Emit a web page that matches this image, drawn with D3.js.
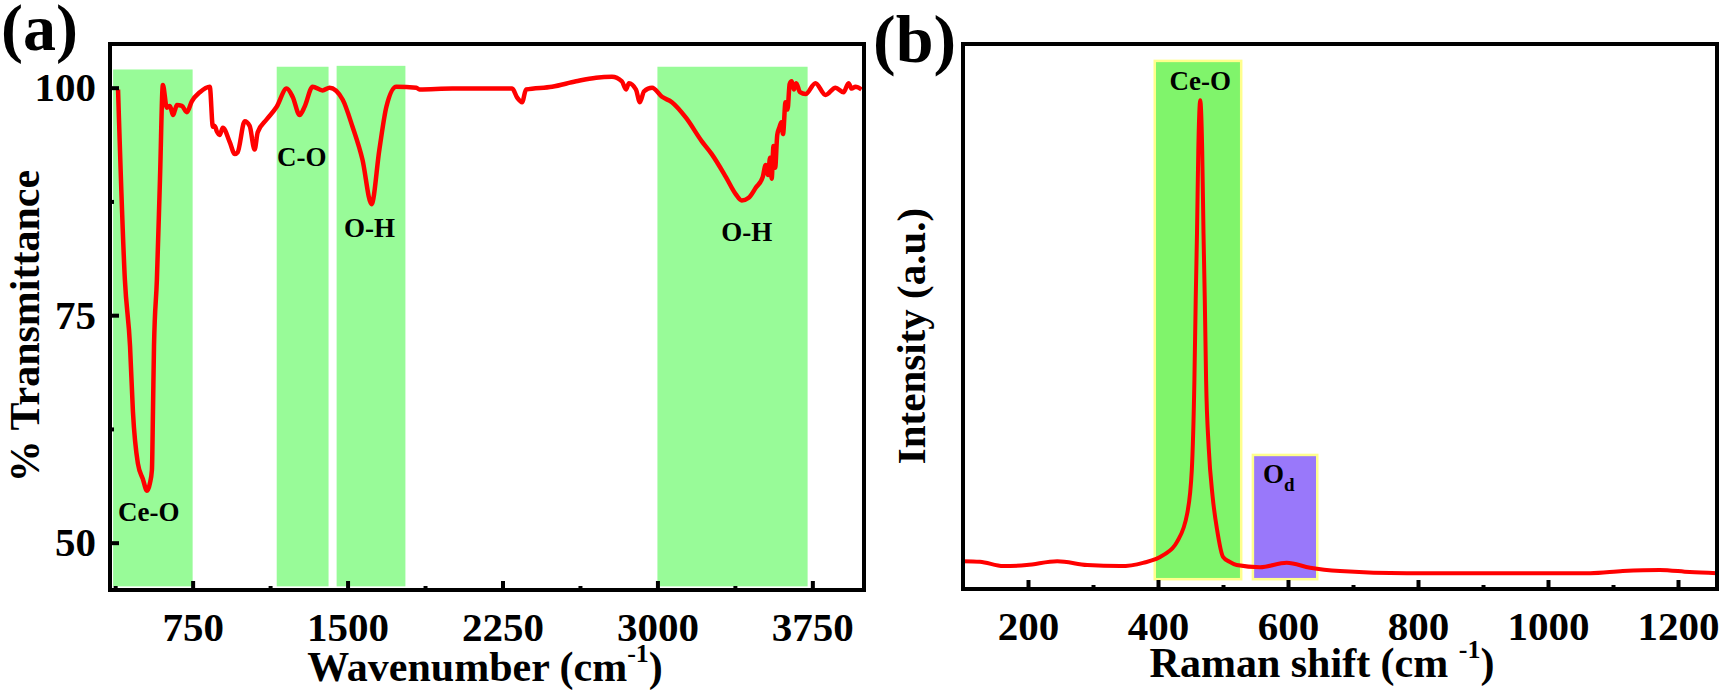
<!DOCTYPE html>
<html>
<head>
<meta charset="utf-8">
<script src="https://cdn.jsdelivr.net/npm/d3@7"></script>
<style>
  html, body { margin: 0; padding: 0; background: #ffffff; }
  svg { display: block; }
  text { font-family: "Liberation Serif", "Times New Roman", serif; font-weight: bold; fill: #000; }
</style>
</head>
<body>
<svg id="chart" width="1720" height="690"></svg>
<script>
// ---------------- DATA ----------------
// (a) FTIR: wavenumber (cm-1) and % transmittance
const ftirWavenumber = [389, 422, 447, 461, 485, 509, 529, 543, 553, 558, 563, 577, 592, 606, 625, 640, 655, 664, 674, 698, 722, 746, 785, 833, 848, 857, 867, 881, 896, 930, 954, 968, 1002, 1026, 1050, 1065, 1108, 1157, 1205, 1234, 1268, 1292, 1331, 1379, 1413, 1476, 1524, 1572, 1616, 1654, 1688, 1736, 1833, 1848, 2007, 2297, 2321, 2345, 2364, 2490, 2606, 2703, 2780, 2828, 2848, 2862, 2896, 2915, 2935, 2974, 3022, 3070, 3138, 3215, 3263, 3331, 3379, 3408, 3442, 3476, 3510, 3524, 3536, 3545, 3553, 3562, 3570, 3580, 3590, 3600, 3608, 3620, 3630, 3640, 3650, 3660, 3672, 3690, 3717, 3765, 3814, 3862, 3901, 3925, 3940, 3959, 3988];
const ftirTransmittance = [99.8, 78.9, 71.6, 64.4, 58.7, 57.0, 55.7, 56.5, 58.0, 64.4, 71.6, 78.9, 90.0, 100.3, 97.8, 98.0, 97.0, 97.5, 98.1, 98.0, 97.3, 98.5, 99.5, 100.1, 95.7, 95.8, 95.2, 94.8, 95.6, 94.0, 92.7, 92.9, 96.3, 95.8, 93.2, 95.1, 96.5, 97.9, 99.9, 99.0, 97.0, 97.9, 100.1, 99.7, 100.0, 98.7, 95.7, 92.1, 87.2, 93.2, 97.9, 100.1, 100.0, 99.8, 99.9, 99.9, 98.9, 98.4, 99.8, 100.1, 100.7, 101.1, 101.2, 100.7, 99.8, 100.5, 99.8, 98.4, 99.6, 100.0, 99.0, 98.4, 96.7, 94.1, 92.7, 90.2, 88.3, 87.6, 87.9, 89.0, 90.2, 91.5, 90.4, 92.3, 90.0, 93.6, 91.2, 94.8, 95.6, 96.2, 94.9, 98.4, 97.6, 100.4, 100.7, 99.8, 100.5, 99.5, 99.3, 100.5, 99.2, 100.0, 99.5, 100.5, 99.9, 100.1, 99.8];

const ftirBandStart = [365, 1157, 1447, 3000];
const ftirBandEnd   = [750, 1408, 1780, 3727];
const ftirBandTop   = [102.0, 102.3, 102.4, 102.3];
const ftirLabels    = ["Ce-O", "C-O", "O-H", "O-H"];
const ftirLabelX    = [538, 1278, 1606, 3432];
const ftirLabelY    = [52.4, 91.4, 83.6, 83.2];

const ftirMajorTicksX = [750, 1500, 2250, 3000, 3750];
const ftirMinorTicksX = [375, 1125, 1875, 2625, 3375];
const ftirMajorTicksY = [50, 75, 100];
const ftirMinorTicksY = [62.5, 87.5];

// (b) Raman: shift (cm-1) and intensity (a.u.)
const ramanShift = [100, 126, 162, 198, 245, 291, 342, 377, 408, 429, 445, 452, 456, 458, 460, 462, 465, 468, 470, 472, 474, 478, 484, 491, 500, 510, 521, 557, 598, 634, 680, 783, 937, 1065, 1115, 1172, 1218, 1260];
const ramanIntensity = [51, 50, 42, 44, 51, 44, 42, 48, 62, 86, 139, 218, 383, 530, 653, 805, 897, 805, 653, 530, 383, 260, 170, 108, 59, 50, 44, 40, 48, 39, 33, 29, 29, 29, 33, 35, 31, 29];

const ramanBandStart = [395, 546];
const ramanBandEnd   = [528, 645];
const ramanBandTop   = [969, 246];
const ramanBandBottom = 18;
const ramanLabelX    = [465, 586];
const ramanLabelY    = [916, 195];

const ramanMajorTicksX = [200, 400, 600, 800, 1000, 1200];
const ramanMinorTicksX = [300, 500, 700, 900, 1100];

// ---------------- DRAW ----------------
const svg = d3.select("#chart");

function styleAxis(g) {
  g.select(".domain").remove();
  g.selectAll(".tick line").attr("stroke", "#000").attr("stroke-width", 4);
  g.selectAll(".tick text").attr("font-size", 41).attr("font-family", "Liberation Serif, serif").attr("font-weight", "bold").attr("fill", "#000");
}
function minorAxis(g) {
  g.select(".domain").remove();
  g.selectAll(".tick text").remove();
  g.selectAll(".tick line").attr("stroke", "#000").attr("stroke-width", 4);
}

// ===== Panel (a) =====
const A = { left: 110, right: 864, top: 44, bottom: 590 };
const xA = d3.scaleLinear().domain([350, 4000]).range([A.left, A.right]);
const yA = d3.scaleLinear().domain([44.8, 104.8]).range([A.bottom, A.top]);

const gA = svg.append("g");
gA.selectAll("rect.band").data(ftirBandStart).join("rect")
  .attr("class", "band")
  .attr("x", (d, i) => xA(d))
  .attr("width", (d, i) => xA(ftirBandEnd[i]) - xA(d))
  .attr("y", (d, i) => yA(ftirBandTop[i]))
  .attr("height", (d, i) => yA(45.2) - yA(ftirBandTop[i]))
  .attr("fill", "#98fb98");

const ftirData = ftirWavenumber.map((w, i) => [w, ftirTransmittance[i]]);
gA.append("path")
  .datum(ftirData)
  .attr("fill", "none")
  .attr("stroke", "#ff0000")
  .attr("stroke-width", 4.5)
  .attr("stroke-linejoin", "round")
  .attr("d", d3.line().x(d => xA(d[0])).y(d => yA(d[1])).curve(d3.curveMonotoneX));

gA.selectAll("text.blabel").data(ftirLabels).join("text")
  .attr("class", "blabel")
  .attr("x", (d, i) => xA(ftirLabelX[i]))
  .attr("y", (d, i) => yA(ftirLabelY[i]))
  .attr("text-anchor", "middle")
  .attr("font-size", 27)
  .text(d => d);

const axA_B = d3.axisBottom(xA).tickValues(ftirMajorTicksX).tickSize(-9).tickFormat(d3.format("d"));
const axA_Bm = d3.axisBottom(xA).tickValues(ftirMinorTicksX).tickSize(-4);
const axA_L = d3.axisLeft(yA).tickValues(ftirMajorTicksY).tickSize(-9).tickPadding(14).tickFormat(d3.format("d"));
const axA_Lm = d3.axisLeft(yA).tickValues(ftirMinorTicksY).tickSize(-4);

gA.append("g").attr("transform", `translate(0,${A.bottom})`).call(axA_B).call(styleAxis)
  .selectAll(".tick text").attr("dy", "0.71em").attr("y", 22);
gA.append("g").attr("transform", `translate(0,${A.bottom})`).call(axA_Bm).call(minorAxis);
gA.append("g").attr("transform", `translate(${A.left},0)`).call(axA_L).call(styleAxis);
gA.append("g").attr("transform", `translate(${A.left},0)`).call(axA_Lm).call(minorAxis);

gA.append("rect")
  .attr("x", A.left).attr("y", A.top)
  .attr("width", A.right - A.left).attr("height", A.bottom - A.top)
  .attr("fill", "none").attr("stroke", "#000").attr("stroke-width", 4);

const tA = gA.append("text").attr("x", 485).attr("y", 681).attr("text-anchor", "middle").attr("font-size", 42);
tA.append("tspan").text("Wavenumber (cm");
tA.append("tspan").attr("font-size", 26).attr("dy", -19).text("-1");
tA.append("tspan").attr("dy", 19).text(")");

gA.append("text")
  .attr("transform", "translate(39,326) rotate(-90)")
  .attr("text-anchor", "middle").attr("font-size", 42)
  .text("% Transmittance");

svg.append("text").attr("x", 1).attr("y", 50).attr("font-size", 66).text("(a)");

// ===== Panel (b) =====
const B = { left: 963, right: 1717, top: 44, bottom: 589 };
const xB = d3.scaleLinear().domain([100, 1260]).range([B.left, B.right]);
const yB = d3.scaleLinear().domain([0, 1000]).range([B.bottom, B.top]);

const gB = svg.append("g");
const bandColors = ["#80f46b", "#9978fa"];
gB.selectAll("rect.band").data(ramanBandStart).join("rect")
  .attr("class", "band")
  .attr("x", (d, i) => xB(d))
  .attr("width", (d, i) => xB(ramanBandEnd[i]) - xB(d))
  .attr("y", (d, i) => yB(ramanBandTop[i]))
  .attr("height", (d, i) => yB(ramanBandBottom) - yB(ramanBandTop[i]))
  .attr("fill", (d, i) => bandColors[i])
  .attr("stroke", "#ffff8c")
  .attr("stroke-width", 2.5);

const ramanData = ramanShift.map((s, i) => [s, ramanIntensity[i]]);
gB.append("path")
  .datum(ramanData)
  .attr("fill", "none")
  .attr("stroke", "#ff0000")
  .attr("stroke-width", 4)
  .attr("stroke-linejoin", "round")
  .attr("d", d3.line().x(d => xB(d[0])).y(d => yB(d[1])).curve(d3.curveMonotoneX));

gB.append("text")
  .attr("x", xB(ramanLabelX[0])).attr("y", yB(ramanLabelY[0]))
  .attr("text-anchor", "middle").attr("font-size", 27).text("Ce-O");
const od = gB.append("text")
  .attr("x", xB(ramanLabelX[1])).attr("y", yB(ramanLabelY[1]))
  .attr("text-anchor", "middle").attr("font-size", 27);
od.append("tspan").text("O");
od.append("tspan").attr("font-size", 19).attr("dy", 8).text("d");

const axB_B = d3.axisBottom(xB).tickValues(ramanMajorTicksX).tickSize(-9).tickFormat(d3.format("d"));
const axB_Bm = d3.axisBottom(xB).tickValues(ramanMinorTicksX).tickSize(-4);
gB.append("g").attr("transform", `translate(0,${B.bottom})`).call(axB_B).call(styleAxis)
  .selectAll(".tick text").attr("dy", "0.71em").attr("y", 22);
gB.append("g").attr("transform", `translate(0,${B.bottom})`).call(axB_Bm).call(minorAxis);

gB.append("rect")
  .attr("x", B.left).attr("y", B.top)
  .attr("width", B.right - B.left).attr("height", B.bottom - B.top)
  .attr("fill", "none").attr("stroke", "#000").attr("stroke-width", 4);

const tB = gB.append("text").attr("x", 1322).attr("y", 677).attr("text-anchor", "middle").attr("font-size", 42);
tB.append("tspan").text("Raman shift (cm ");
tB.append("tspan").attr("font-size", 26).attr("dy", -19).text("-1");
tB.append("tspan").attr("dy", 19).text(")");

gB.append("text")
  .attr("transform", "translate(925,336) rotate(-90)")
  .attr("text-anchor", "middle").attr("font-size", 41)
  .text("Intensity (a.u.)");

svg.append("text").attr("x", 873).attr("y", 62).attr("font-size", 68).text("(b)");
</script>
</body>
</html>
